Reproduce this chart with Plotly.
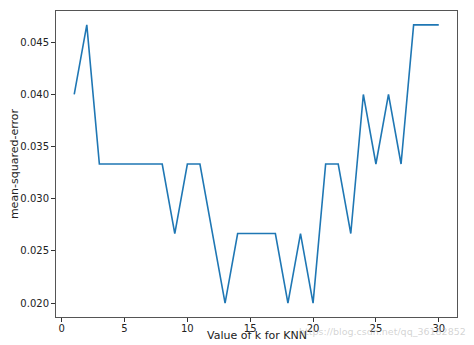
import plotly.graph_objects as go

k_values = list(range(1, 31))
mse = [0.04, 0.046667, 0.033333, 0.033333, 0.033333, 0.033333, 0.033333, 0.033333,
       0.026667, 0.033333, 0.033333, 0.026667, 0.02, 0.026667, 0.026667, 0.026667,
       0.026667, 0.02, 0.026667, 0.02, 0.033333, 0.033333, 0.026667, 0.04,
       0.033333, 0.04, 0.033333, 0.046667, 0.046667, 0.046667]
x_ticks = [0, 5, 10, 15, 20, 25, 30]
y_ticks = [0.020, 0.025, 0.030, 0.035, 0.040, 0.045]

fig = go.Figure(go.Scatter(x=k_values, y=mse, mode="lines",
                           line=dict(color="#1f77b4", width=1.6)))

axis_common = dict(showline=True, linecolor="#555555", linewidth=1, mirror=True,
                   ticks="outside", ticklen=4, tickcolor="#333333", showgrid=False,
                   zeroline=False, automargin=False,
                   tickfont=dict(family="DejaVu Sans", size=10, color="#222222"))

fig.update_layout(
    width=466, height=337,
    margin=dict(l=48, r=17, t=3, b=28),
    plot_bgcolor="white", paper_bgcolor="white",
    showlegend=False,
    xaxis=dict(range=[-0.45, 31.45], tickvals=x_ticks, ticktext=[str(v) for v in x_ticks],
               ticklabelstandoff=-2, **axis_common),
    yaxis=dict(range=[0.018667, 0.048], tickvals=y_ticks,
               ticktext=[f"{v:.3f}" for v in y_ticks],
               title=dict(text="mean-squared-error", standoff=6,
                          font=dict(family="DejaVu Sans", size=11, color="#222222")),
               **axis_common),
)

# x-axis title placed just below the tick labels
fig.add_annotation(text="Value of k for KNN", xref="paper", yref="paper",
                   x=0.5, y=-(327 - 309) / 298, xanchor="center", yanchor="middle",
                   showarrow=False,
                   font=dict(family="DejaVu Sans", size=11, color="#222222"))

fig.add_annotation(text="https://blog.csdn.net/qq_36182852", xref="paper", yref="paper",
                   x=(468 - 56) / 401, y=-(323 - 309) / 298, xanchor="right", yanchor="middle",
                   showarrow=False,
                   font=dict(family="DejaVu Sans", size=9.5, color="rgba(175,175,175,0.55)"))

fig.write_html("out.html")
